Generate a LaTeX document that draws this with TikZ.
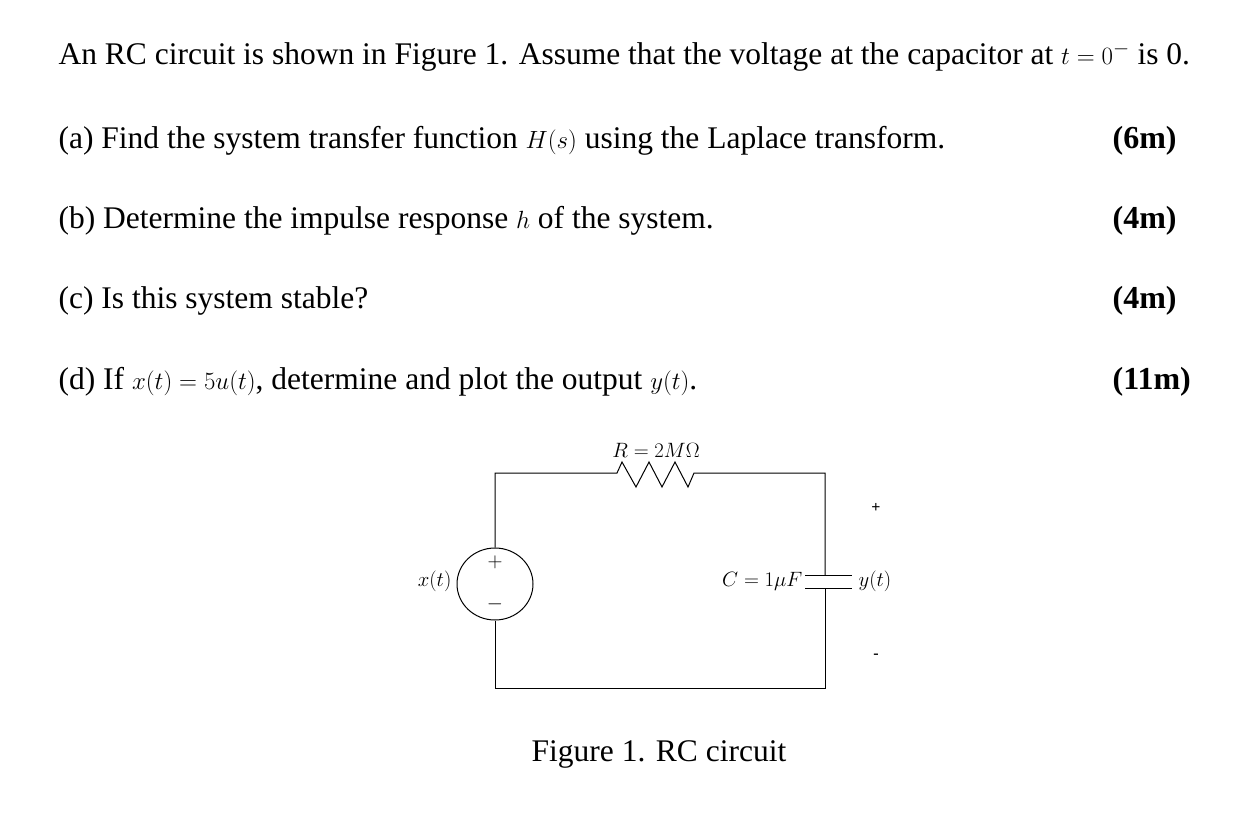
\documentclass[tikz,border=0pt]{standalone}
\usepackage{fontspec}
\setmainfont{Liberation Serif}
\usetikzlibrary{shapes.geometric}
\begin{document}
\begin{tikzpicture}[x=1pt,y=-1pt,line width=1.2pt,
  q/.style={anchor=base west,inner sep=0pt,font=\fontsize{31.5}{33}\selectfont},
  mk/.style={q,font=\fontsize{32}{34}\selectfont\bfseries},
  lab/.style={inner sep=0pt,font=\fontsize{20}{22}\selectfont}]
\useasboundingbox (0,0) rectangle (1254,812);
\node[q] (l0) at (58,64) {An RC circuit is shown in Figure 1. Assume that the voltage at the capacitor at $t=0^{-}$\ is 0.};
\node[q] (la) at (58,148) {(a) Find the system transfer function $H(s)$ using the Laplace transform.};
\node[q] (lb) at (58,228) {(b) Determine the impulse response $h$ of the system.};
\node[q] (lc) at (58,308) {(c) Is this system stable?};
\node[q] (ld) at (58,389) {(d) If $x(t)=5u(t)$, determine and plot the output $y(t)$.};
\node[mk] (ma) at (1112,148) {(6m)};
\node[mk] (mb) at (1112,228) {(4m)};
\node[mk] (mc) at (1112,308) {(4m)};
\node[mk] (md) at (1112,389) {(11m)};
% circuit
\node[draw,ellipse,line width=1pt,minimum width=76pt,minimum height=72pt,inner sep=0pt] (src) at (495,584) {};
\node[lab] (sp) at (495,562) {$+$};
\node[lab] (sm) at (495,604) {$-$};
\coordinate (tl) at (495,473);
\coordinate (tr) at (825,473);
\coordinate (bl) at (495,688);
\coordinate (br) at (825,688);
\coordinate (r1) at (617,473);
\coordinate (r2) at (694,473);
\coordinate (ct) at (825,575);
\coordinate (cb) at (825,588);
\draw[line width=1pt] (src.north) -- (tl) -- (r1) -- (622,462) -- (636,487) -- (649,462) -- (662,487) -- (675,462) -- (688,487) -- (r2) -- (tr) -- (ct);
\draw[line width=1pt] (src.south) -- (bl) -- (br) -- (cb);
\draw[line width=1pt] (805,575) -- (852,575) (805,588) -- (852,588);
\node[lab] (rl) at (656,450) {$R=2M\Omega$};
\node[lab,anchor=east] (cl) at (803,581) {$C=1\mu F$};
\node[lab,anchor=west] (yl) at (858,581) {$y(t)$};
\node[lab,anchor=east] (xl) at (452,581) {$x(t)$};
\node[lab,font=\fontsize{16}{18}\selectfont\bfseries] (pl) at (876,508) {+};
\node[lab,font=\fontsize{16}{18}\selectfont\bfseries] (ml) at (876,656) {-};
\node[q,anchor=base] (cap) at (659,761) {Figure 1. RC circuit};
\end{tikzpicture}
\end{document}
